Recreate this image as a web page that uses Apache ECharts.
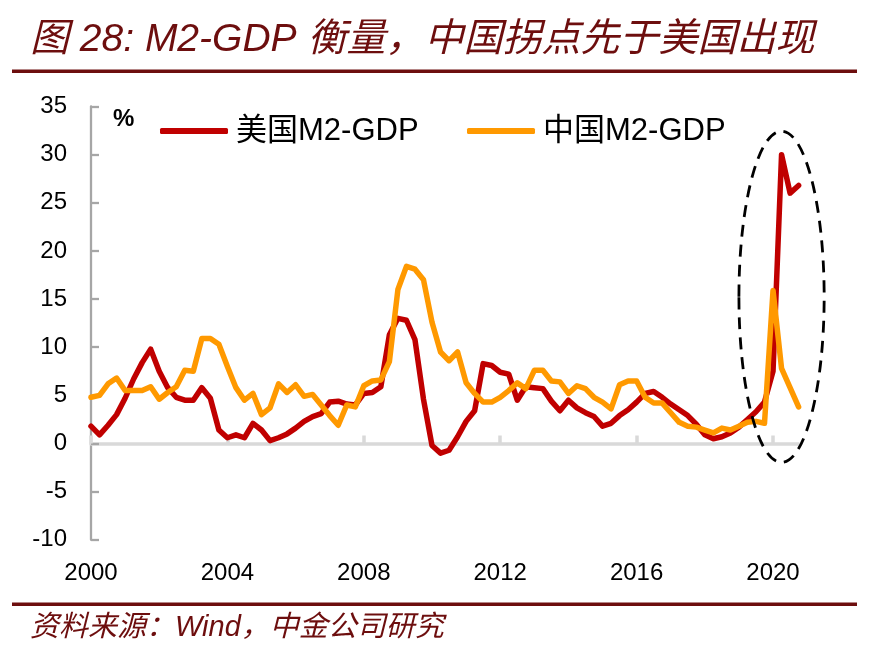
<!DOCTYPE html>
<html><head><meta charset="utf-8">
<script src="https://cdn.jsdelivr.net/npm/echarts@6/dist/echarts.min.js"></script>
<style>html,body{margin:0;padding:0;background:#fff}#c{width:881px;height:656px}</style>
</head><body><div id="c"></div>
<script>
// Quarterly categories 2000Q1 .. 2020Q4
const quarters = [];
for (let y = 2000; y <= 2020; y++) for (let q = 1; q <= 4; q++) quarters.push(y + 'Q' + q);

const seriesNames = ['美国M2-GDP', '中国M2-GDP'];

const usM2GDP = [
  1.8, 0.9, 1.9, 3.0, 4.7, 6.7, 8.4, 9.8,
  7.5, 5.8, 4.8, 4.5, 4.5, 5.8, 4.7, 1.4,
  0.6, 0.9, 0.6, 2.1, 1.4, 0.3, 0.6, 1.0,
  1.6, 2.3, 2.8, 3.1, 4.3, 4.4, 4.1, 4.0,
  5.2, 5.3, 5.9, 11.3, 13.0, 12.8, 10.8, 4.6,
  -0.2, -1.0, -0.7, 0.7, 2.3, 3.4, 8.3, 8.1,
  7.4, 7.2, 4.5, 5.9, 5.8, 5.7, 4.4, 3.4,
  4.5, 3.7, 3.2, 2.8, 1.8, 2.1, 2.9, 3.5,
  4.3, 5.2, 5.4, 4.8, 4.1, 3.5, 2.9, 2.0,
  0.9, 0.5, 0.7, 1.1, 1.7, 2.5, 3.3, 4.3,
  7.5, 30.0, 26.0, 26.8
];

const cnM2GDP = [
  4.8, 5.0, 6.2, 6.8, 5.5, 5.5, 5.5, 5.9,
  4.6, 5.3, 5.9, 7.6, 7.5, 10.9, 10.9, 10.3,
  8.0, 5.8, 4.5, 5.2, 3.0, 3.7, 6.2, 5.3,
  6.1, 4.9, 5.1, 4.0, 2.9, 1.9, 4.0, 3.8,
  6.0, 6.5, 6.6, 8.5, 16.0, 18.4, 18.1, 17.0,
  12.6, 9.5, 8.6, 9.5, 6.3, 5.2, 4.3, 4.3,
  4.8, 5.5, 6.3, 5.7, 7.6, 7.6, 6.5, 6.4,
  5.2, 6.0, 5.7, 4.8, 4.3, 3.6, 6.1, 6.5,
  6.5, 4.8, 4.2, 4.2, 3.2, 2.2, 1.8, 1.7,
  1.4, 1.1, 1.6, 1.4, 1.8, 2.2, 2.3, 2.1,
  15.9, 7.8, 5.8, 3.8
];

const yMin = -10, yMax = 35, yStep = 5;
const xLabelEvery = 16; // one label every 4 years

const FONT = "'Liberation Sans', Arial, 'Noto Sans CJK SC', sans-serif";
const DARK_RED = '#6D0E0E';

const chart = echarts.init(document.getElementById('c'), null, {renderer: 'canvas'});

const option = {
  backgroundColor: '#ffffff',
  animation: false,
  grid: {left: 91, top: 106.5, right: 82.4, bottom: 116.2, containLabel: false},
  legend: [
    {
      data: [seriesNames[0]], left: 155, top: 110,
      icon: 'roundRect', itemWidth: 68, itemHeight: 6,
      textStyle: {fontSize: 31, color: '#000', fontFamily: FONT, padding: [0, 0, 0, 3], lineHeight: 32}
    },
    {
      data: [seriesNames[1]], left: 462, top: 110,
      icon: 'roundRect', itemWidth: 68, itemHeight: 6,
      textStyle: {fontSize: 31, color: '#000', fontFamily: FONT, padding: [0, 0, 0, 3], lineHeight: 32}
    }
  ],
  xAxis: [
    {
      type: 'category', data: quarters, boundaryGap: false, position: 'bottom',
      axisLine: {show: false, onZero: false},
      axisTick: {show: false},
      splitLine: {show: false},
      axisLabel: {
        interval: xLabelEvery - 1, margin: 22, fontSize: 24, color: '#000', fontFamily: FONT,
        formatter: v => v.slice(0, 4)
      }
    },
    {
      type: 'category', data: quarters, boundaryGap: false, position: 'bottom',
      axisLine: {show: true, onZero: true, lineStyle: {color: '#D9D9D9', width: 3.5}},
      axisTick: {show: true, inside: true, interval: xLabelEvery - 1, length: 8, lineStyle: {color: '#D9D9D9', width: 3.5}},
      axisLabel: {show: false},
      splitLine: {show: false}
    }
  ],
  yAxis: {
    type: 'value', min: yMin, max: yMax, interval: yStep,
    axisLine: {show: true, lineStyle: {color: '#A6A6A6', width: 2.3}},
    axisTick: {show: true, inside: true, length: 8, lineStyle: {color: '#A6A6A6', width: 2.3}},
    splitLine: {show: false},
    axisLabel: {margin: 24, fontSize: 24, color: '#000', fontFamily: FONT}
  },
  series: [
    {
      name: seriesNames[0], type: 'line', data: usM2GDP, xAxisIndex: 0,
      symbol: 'none', smooth: false, color: '#C00000',
      lineStyle: {width: 5.5, color: '#C00000', join: 'round', cap: 'round'}
    },
    {
      name: seriesNames[1], type: 'line', data: cnM2GDP, xAxisIndex: 0,
      symbol: 'none', smooth: false, color: '#FF9900',
      lineStyle: {width: 5.5, color: '#FF9900', join: 'round', cap: 'round'}
    }
  ]
};
chart.setOption(option);

// Dashed ellipse highlighting 2020, positioned through the chart's own scales
const ellCenter = chart.convertToPixel({xAxisIndex: 0, yAxisIndex: 0}, [81.14, 15.24]);
const ellCorner = chart.convertToPixel({xAxisIndex: 0, yAxisIndex: 0}, [81.14 + 5.18, 15.24 + 17.2]);
const rx = Math.abs(ellCorner[0] - ellCenter[0]);
const ry = Math.abs(ellCorner[1] - ellCenter[1]);

chart.setOption({
  graphic: [
    {
      type: 'text', left: 30, top: 21, z: 10,
      style: {text: '图 28: M2-GDP 衡量，中国拐点先于美国出现', fontSize: 39, fontStyle: 'italic',
              fontFamily: FONT, fill: DARK_RED}
    },
    {type: 'rect', shape: {x: 12, y: 69.5, width: 845, height: 3.5}, style: {fill: DARK_RED}},
    {type: 'rect', shape: {x: 12, y: 602.5, width: 845, height: 3.5}, style: {fill: DARK_RED}},
    {
      type: 'text', left: 30, top: 613, z: 10,
      style: {text: '资料来源：Wind，中金公司研究', fontSize: 29, fontStyle: 'italic',
              fontFamily: FONT, fill: DARK_RED}
    },
    {
      type: 'text', left: 113, top: 107, z: 10,
      style: {text: '%', fontSize: 24, fontWeight: 'bold', fontFamily: FONT, fill: '#000'}
    },
    {
      type: 'ellipse', z: 20,
      shape: {cx: ellCenter[0], cy: ellCenter[1], rx: rx, ry: ry},
      style: {fill: 'none', stroke: '#000', lineWidth: 2.8, lineDash: [12, 8]}
    }
  ]
});
</script>
</body></html>
